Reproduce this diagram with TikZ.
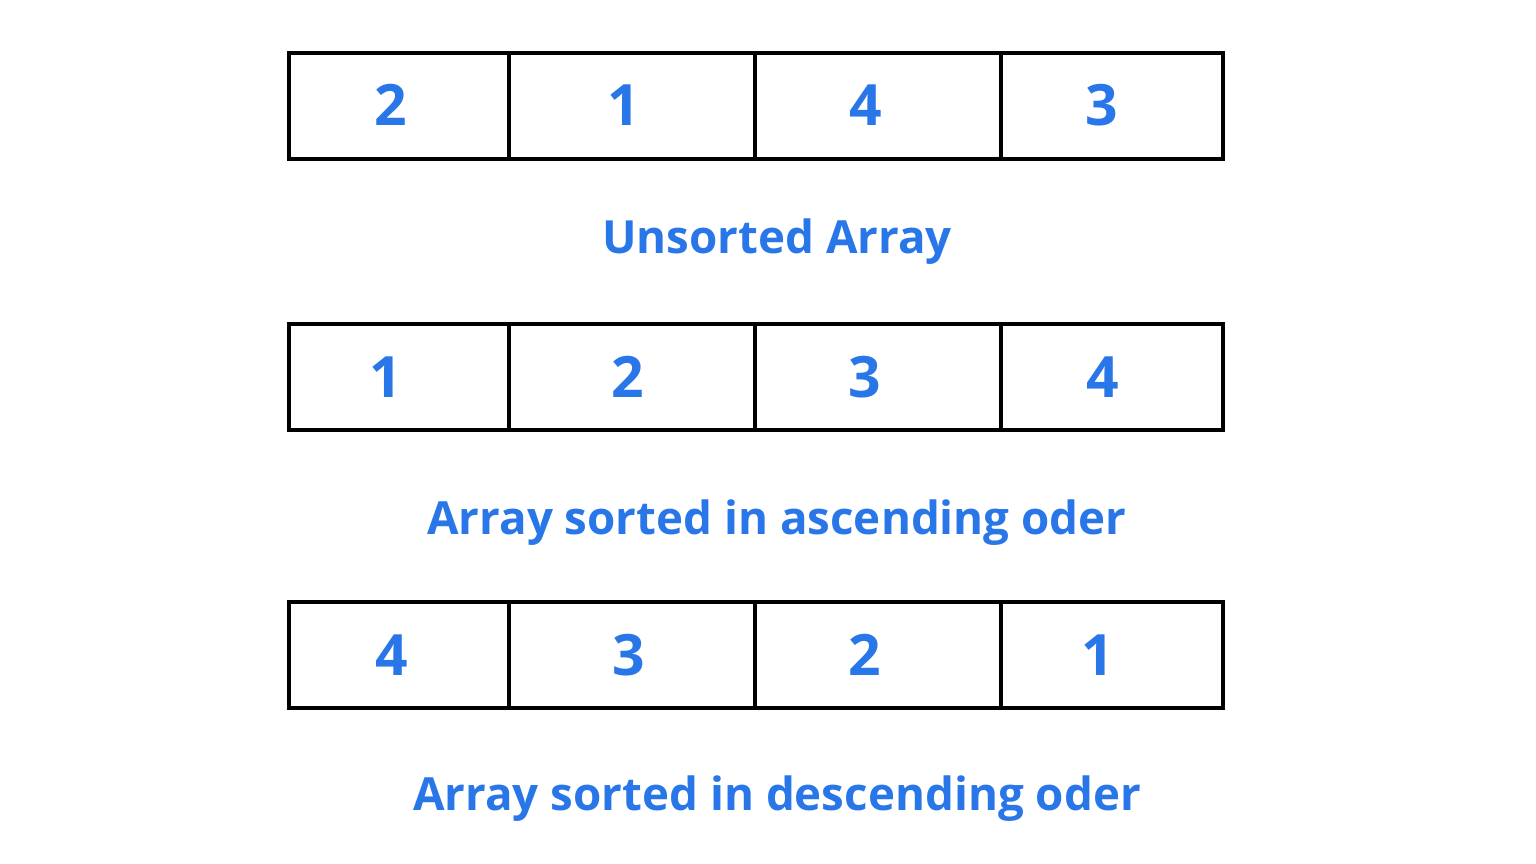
\documentclass[tikz,border=0pt]{standalone}
\usepackage{fontspec}
\setmainfont{Open Sans}
\usetikzlibrary{positioning}
\definecolor{arrblue}{RGB}{41,118,232}

\begin{document}
\begin{tikzpicture}[x=1pt,y=-1pt,line join=miter]
\tikzset{every node/.style={text=arrblue,inner sep=0pt,anchor=base},
  digit/.style={font=\bfseries\fontsize{57}{57}\selectfont},
  caption/.style={font=\bfseries\fontsize{45.7}{46}\selectfont},
  cellbox/.style={draw=black,line width=4pt}}
\useasboundingbox (0,0) rectangle (1536,864);
% the three arrays
\foreach \y in {53,324,602}
{\draw[cellbox] (289,\y) rectangle (1223,\y+106);
\foreach \x in {509,755,1001}
\draw[cellbox] (\x,\y)--(\x,\y+106);}
% unsorted
\foreach \x/\d in {391/2,624/1,866/4,1102/3}
\node[digit] (u\d) at (\x,125) {\d};
\node[caption] (unsorted) at (777,253) {Unsorted Array};
% ascending
\foreach \x/\d in {386/1,628/2,865/3,1103/4}
\node[digit] (a\d) at (\x,397) {\d};
\node[caption] (ascending) at (777,534) {Array sorted in ascending oder};
% descending
\foreach \x/\d in {392/4,629/3,865/2,1098/1}
\node[digit] (d\d) at (\x,675) {\d};
\node[caption] (descending) at (777,810) {Array sorted in descending oder};
\end{tikzpicture}
\end{document}
